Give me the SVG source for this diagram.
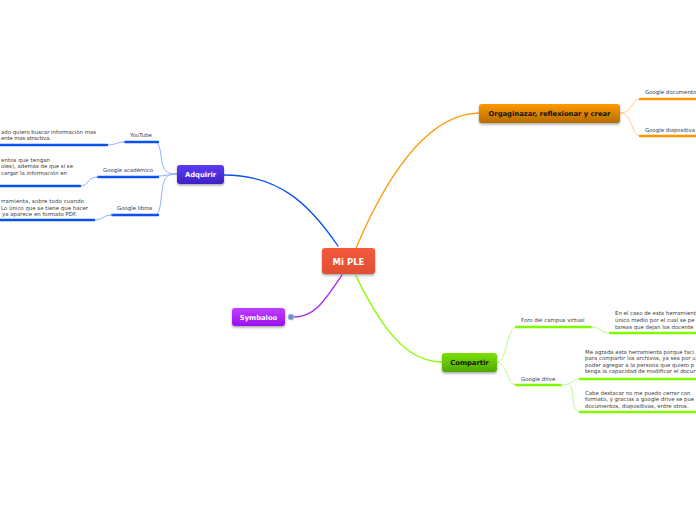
<svg xmlns="http://www.w3.org/2000/svg" width="696" height="520" viewBox="0 0 696 520">
<defs>
<linearGradient id="gB" x1="0" y1="0" x2="0" y2="1"><stop offset="0" stop-color="#5a3df0"/><stop offset="1" stop-color="#3f1fc8"/></linearGradient>
<linearGradient id="gO" x1="0" y1="0" x2="0" y2="1"><stop offset="0" stop-color="#ff9a00"/><stop offset="1" stop-color="#b56c00"/></linearGradient>
<linearGradient id="gG" x1="0" y1="0" x2="0" y2="1"><stop offset="0" stop-color="#7ee000"/><stop offset="1" stop-color="#4fa800"/></linearGradient>
<linearGradient id="gP" x1="0" y1="0" x2="0" y2="1"><stop offset="0" stop-color="#c040ff"/><stop offset="1" stop-color="#9a10f0"/></linearGradient>
<linearGradient id="gR" x1="0" y1="0" x2="0" y2="1"><stop offset="0" stop-color="#f4593c"/><stop offset="1" stop-color="#e04f34"/></linearGradient>
<filter id="sh" x="-10%" y="-20%" width="120%" height="150%"><feDropShadow dx="0" dy="1.5" stdDeviation="1.2" flood-color="#000" flood-opacity="0.35"/></filter>
</defs>
<style>
text{font-family:"DejaVu Sans",Verdana,sans-serif;font-size:5.4px;fill:#3a3a3a}
.e{text-anchor:end}
.n{font-size:6.8px;font-weight:bold;text-anchor:middle}
.w{fill:#fff}.k{fill:#111}
.c{fill:none;stroke-linecap:round}
.b1{stroke:#0b50f0;stroke-width:1.3}.b0{stroke:#8fb0fa;stroke-width:1}.b2{stroke:#0b50f0;stroke-width:2.4}
.o1{stroke:#ff9d14;stroke-width:1.3}.o0{stroke:#ffcf8a;stroke-width:1}.o2{stroke:#ff9500;stroke-width:2.4}
.g1{stroke:#8cf800;stroke-width:1.4}.g0{stroke:#bdf98a;stroke-width:1}.g2{stroke:#80fa00;stroke-width:2.4}
.p1{stroke:#a820f5;stroke-width:1.3}
</style>
<g id="connectors">
<path class="c b1" d="M338 246C310 205 280 175 224 175"/>
<path class="c o1" d="M356 248C385 180 425 114 479 113"/>
<path class="c g1" d="M356 276C380 325 405 362 442 362"/>
<path class="c p1" d="M342 275C325 300 315 317 294 317"/>
<path class="c b0" d="M177 174C165 174 163 170 161 156C160 146 158 142 155 142"/>
<path class="c b0" d="M177 174C170 174 165 176 158 176"/>
<path class="c b0" d="M177 174C165 174 163 178 161 200C160 210 158 215 155 215"/>
<path class="c b2" d="M125 142H158"/>
<path class="c b2" d="M98 177H158"/>
<path class="c b2" d="M112 215H158"/>
<path class="c b0" d="M108 145C116 145 116 142 125 142"/>
<path class="c b0" d="M80 186C90 186 86 177 98 177"/>
<path class="c b0" d="M94 220C104 220 102 215 112 215"/>
<path class="c b2" d="M-2 145H107"/>
<path class="c b2" d="M-2 186H80"/>
<path class="c b2" d="M-2 220H94"/>
<path class="c o0" d="M620 113C634 113 630 99 640 99"/>
<path class="c o0" d="M620 113C634 113 630 136 640 136"/>
<path class="c o2" d="M640 99H698"/>
<path class="c o2" d="M640 136H698"/>
<path class="c g0" d="M497 362C508 362 506 327 516 327"/>
<path class="c g0" d="M497 362C508 362 506 385 516 385"/>
<path class="c g2" d="M516 327H591"/>
<path class="c g2" d="M516 385H561"/>
<path class="c g0" d="M591 327C602 327 600 333 610 333"/>
<path class="c g0" d="M561 385C575 385 570 379 580 379"/>
<path class="c g0" d="M570 385C575 390 570 412 580 412"/>
<path class="c g2" d="M610 333H698"/>
<path class="c g2" d="M580 379H698"/>
<path class="c g2" d="M580 412H698"/>
</g>
<g id="root"><rect x="322" y="248" width="53" height="26" rx="3" fill="url(#gR)" filter="url(#sh)"/><text class="n w" x="348.500" y="265" style="font-size:8.500px">Mi PLE</text></g>
<g id="adquirir"><rect x="177" y="165" width="47" height="19" rx="3" fill="url(#gB)" filter="url(#sh)"/><text class="n w" x="200.500" y="177">Adquirir</text></g>
<g id="organizar"><rect x="479" y="104" width="141" height="19" rx="3" fill="url(#gO)" filter="url(#sh)"/><text class="n k" x="549.500" y="116">Orgaginazar, reflexionar y crear</text></g>
<g id="compartir"><rect x="442" y="353" width="55" height="19" rx="3" fill="url(#gG)" filter="url(#sh)"/><text class="n k" x="469.500" y="365">Compartir</text></g>
<g id="symbaloo"><rect x="232" y="308" width="53" height="18" rx="3" fill="url(#gP)" filter="url(#sh)"/><text class="n w" x="258.500" y="320">Symbaloo</text><circle cx="291" cy="317" r="3" fill="#6b93c8" stroke="#a9bedc" stroke-width="1"/></g>
<g id="youtube"><text x="130" y="137">YouTube</text></g>
<g id="academico"><text x="103" y="172">Google académico</text></g>
<g id="libros"><text x="117" y="210">Google libros</text></g>
<g id="n-yt"><text x="1" y="134" textLength="95">ado quiero buscar información mas</text><text x="1" y="140" textLength="50">ente mas atractiva.</text></g>
<g id="n-ac"><text x="1" y="161.500" textLength="49">entos que tengan</text><text x="1" y="168" textLength="72">oles), además de que si se</text><text x="1" y="175" textLength="66">cargar la información en</text></g>
<g id="n-li"><text x="1" y="203" textLength="83">rramienta, sobre todo cuando</text><text x="1" y="209.500" textLength="87">Lo único que se tiene que hacer</text><text x="2" y="216" textLength="75">ya aparece en formato PDF.</text></g>
<g id="gdoc"><text x="645" y="94">Google documento</text></g>
<g id="gdia"><text x="645" y="132">Google diapositiva</text></g>
<g id="foro"><text x="521" y="322">Foro del campus virtual</text></g>
<g id="drive"><text x="521" y="381">Google drive</text></g>
<g id="n-foro"><text x="615" y="315">En el caso de esta herramient</text><text x="615" y="322">único medio por el cual se pe</text><text x="615" y="328.500">tareas que dejan los docente</text></g>
<g id="n-dr1"><text x="585" y="354">Me agrada esta herramienta porque faci</text><text x="585" y="360">para compartir los archivos, ya sea por u</text><text x="585" y="366.500">poder agregar a la persona que quiero p</text><text x="585" y="373">tenga la capacidad de modificar el docur</text></g>
<g id="n-dr2"><text x="585" y="395">Cabe destacar  no me puedo cerrar con</text><text x="585" y="401">formato, y gracias a google drive se pue</text><text x="585" y="407.500">documentos, diapositivas, entre otros.</text></g>
</svg>
